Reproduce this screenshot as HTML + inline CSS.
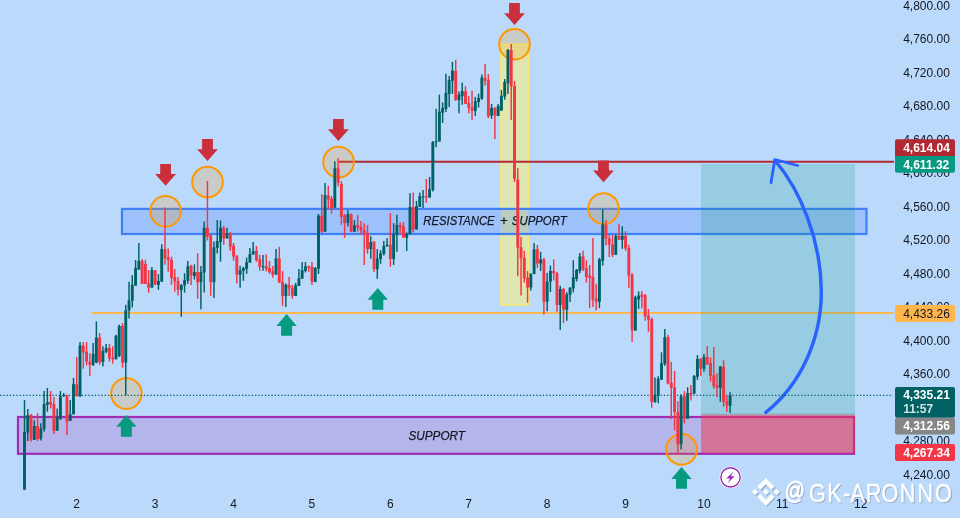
<!DOCTYPE html>
<html lang="en"><head><meta charset="utf-8"><title>Chart</title>
<style>
html,body{margin:0;padding:0;background:#BBD9FB;}
body{width:960px;height:518px;overflow:hidden;font-family:"Liberation Sans",sans-serif;}
svg{display:block;}
.ax{font-family:"Liberation Sans",sans-serif;font-size:12px;fill:#131722;}
.lbl{font-family:"Liberation Sans",sans-serif;font-size:13px;font-style:italic;fill:#131722;stroke:#131722;stroke-width:0.25px;}
.wm{font-family:"Liberation Sans",sans-serif;font-size:24px;}
</style></head><body>
<svg width="960" height="518" viewBox="0 0 960 518">
<rect width="960" height="518" fill="#BBD9FB"/>
<!-- axis labels -->
<g>
<text x="903.2" y="9.7" class="ax">4,800.00</text>
<text x="903.2" y="43.2" class="ax">4,760.00</text>
<text x="903.2" y="76.7" class="ax">4,720.00</text>
<text x="903.2" y="110.2" class="ax">4,680.00</text>
<text x="903.2" y="143.7" class="ax">4,640.00</text>
<text x="903.2" y="177.2" class="ax">4,600.00</text>
<text x="903.2" y="210.7" class="ax">4,560.00</text>
<text x="903.2" y="244.1" class="ax">4,520.00</text>
<text x="903.2" y="277.6" class="ax">4,480.00</text>
<text x="903.2" y="311.1" class="ax">4,440.00</text>
<text x="903.2" y="344.6" class="ax">4,400.00</text>
<text x="903.2" y="378.1" class="ax">4,360.00</text>
<text x="903.2" y="411.6" class="ax">4,320.00</text>
<text x="903.2" y="445.1" class="ax">4,280.00</text>
<text x="903.2" y="478.6" class="ax">4,240.00</text>
<text x="76.7" y="507.6" class="ax" text-anchor="middle">2</text>
<text x="155.1" y="507.6" class="ax" text-anchor="middle">3</text>
<text x="233.5" y="507.6" class="ax" text-anchor="middle">4</text>
<text x="311.9" y="507.6" class="ax" text-anchor="middle">5</text>
<text x="390.3" y="507.6" class="ax" text-anchor="middle">6</text>
<text x="468.7" y="507.6" class="ax" text-anchor="middle">7</text>
<text x="547.1" y="507.6" class="ax" text-anchor="middle">8</text>
<text x="625.5" y="507.6" class="ax" text-anchor="middle">9</text>
<text x="703.9" y="507.6" class="ax" text-anchor="middle">10</text>
<text x="782.3" y="507.6" class="ax" text-anchor="middle">11</text>
<text x="860.7" y="507.6" class="ax" text-anchor="middle">12</text>
</g>
<!-- orange line -->
<path d="M92 313H894" stroke="#FFB74D" stroke-width="2"/>
<!-- yellow rect -->
<rect x="500.9" y="44.2" width="27.6" height="260.8" fill="rgba(255,242,110,0.52)"/>
<path d="M500.9 207.8V44.2H528.5V207.8M500.9 235.1V305H528.5V235.1" fill="none" stroke="#FAEA6E" stroke-width="1.4"/>
<!-- blue rect -->
<rect x="122" y="208.9" width="744.5" height="25.1" fill="rgba(41,98,255,0.2)" stroke="#3F80F6" stroke-width="2.2"/>
<text y="225.3" class="lbl"><tspan x="423.3" textLength="71.3" lengthAdjust="spacingAndGlyphs">RESISTANCE</tspan><tspan x="496.5"> + </tspan><tspan x="511.8" textLength="54.9" lengthAdjust="spacingAndGlyphs">SUPPORT</tspan></text>
<!-- purple rect -->
<rect x="18" y="417" width="836" height="36.8" fill="rgba(156,39,176,0.2)" stroke="#A02DB4" stroke-width="2.2"/>
<text x="408.5" y="439.6" class="lbl" textLength="56.5" lengthAdjust="spacingAndGlyphs">SUPPORT</text>
<!-- red line -->
<path d="M338.5 161.8H894" stroke="#B22833" stroke-width="2"/>
<!-- position tool -->
<rect x="701" y="414.6" width="154" height="38.6" fill="rgba(242,54,69,0.5)"/>
<rect x="701" y="164" width="154" height="250" fill="rgba(8,153,129,0.2)"/>
<path d="M701 414.2H855" stroke="#86a3b0" stroke-width="1"/>
<!-- circles -->
<circle cx="165.6" cy="211.3" r="15.3" fill="rgba(255,152,0,0.2)" stroke="#FF9800" stroke-width="2"/>
<circle cx="207.5" cy="182" r="15.3" fill="rgba(255,152,0,0.2)" stroke="#FF9800" stroke-width="2"/>
<circle cx="338.6" cy="162.1" r="15.3" fill="rgba(255,152,0,0.2)" stroke="#FF9800" stroke-width="2"/>
<circle cx="514.5" cy="44.3" r="15.3" fill="rgba(255,152,0,0.2)" stroke="#FF9800" stroke-width="2"/>
<circle cx="603.5" cy="208.6" r="15.3" fill="rgba(255,152,0,0.2)" stroke="#FF9800" stroke-width="2"/>
<circle cx="126.4" cy="393.6" r="15.3" fill="rgba(255,152,0,0.2)" stroke="#FF9800" stroke-width="2"/>
<circle cx="681.6" cy="449.4" r="15.3" fill="rgba(255,152,0,0.2)" stroke="#FF9800" stroke-width="2"/>
<!-- arrows -->
<path d="M160.2 164.0H171.0V174.1H176.0L165.6 185.8L155.2 174.1H160.2Z" fill="#CC2F3C"/>
<path d="M202.1 139.1H212.9V149.2H217.9L207.5 160.9L197.1 149.2H202.1Z" fill="#CC2F3C"/>
<path d="M333.0 119.1H343.8V129.2H348.8L338.4 140.9L328.0 129.2H333.0Z" fill="#CC2F3C"/>
<path d="M509.1 3.1H519.9V13.2H524.9L514.5 24.9L504.1 13.2H509.1Z" fill="#CC2F3C"/>
<path d="M598.1 160.4H608.9V170.5H613.9L603.5 182.2L593.1 170.5H598.1Z" fill="#CC2F3C"/>
<path d="M126.4 414.9L136.6 426.8H131.9V436.7H120.9V426.8H116.2Z" fill="#089981"/>
<path d="M286.6 314.0L296.8 325.9H292.1V335.8H281.1V325.9H276.4Z" fill="#089981"/>
<path d="M377.8 287.9L388.0 299.8H383.3V309.7H372.3V299.8H367.6Z" fill="#089981"/>
<path d="M681.5 467.0L691.7 478.9H687.0V488.8H676.0V478.9H671.3Z" fill="#089981"/>
<!-- blue curve -->
<path d="M765.8 412.4C800 385 821.3 340 821.3 292C821.3 240 800 190 775.5 161" fill="none" stroke="#2962FF" stroke-width="3.4" stroke-linecap="round"/>
<path d="M771 182.8L774.8 159.7L797.7 165.5" fill="none" stroke="#2962FF" stroke-width="2.8" stroke-linecap="round" stroke-linejoin="round"/>
<!-- dotted price line -->
<path d="M0 395.3H893" stroke="#006064" stroke-width="1.3" stroke-dasharray="1.3 1.97"/>
<!-- candles -->
<g shape-rendering="auto">
<path d="M24.50 400.1V489.7" stroke="#006064" stroke-width="1.45"/><rect x="23.05" y="432.0" width="2.9" height="57.7" fill="#006064"/>
<path d="M27.77 409.0V441.0" stroke="#006064" stroke-width="1.45"/><rect x="26.32" y="415.2" width="2.9" height="17.3" fill="#006064"/>
<path d="M31.03 414.0V441.8" stroke="#F23645" stroke-width="1.45"/><rect x="29.58" y="414.8" width="2.9" height="24.7" fill="#F23645"/>
<path d="M34.30 420.2V440.0" stroke="#006064" stroke-width="1.45"/><rect x="32.85" y="426.0" width="2.9" height="14.0" fill="#006064"/>
<path d="M37.57 413.2V441.0" stroke="#F23645" stroke-width="1.45"/><rect x="36.12" y="426.0" width="2.9" height="13.2" fill="#F23645"/>
<path d="M40.83 423.3V440.6" stroke="#006064" stroke-width="1.45"/><rect x="39.38" y="428.4" width="2.9" height="10.3" fill="#006064"/>
<path d="M44.10 391.1V431.8" stroke="#006064" stroke-width="1.45"/><rect x="42.65" y="404.0" width="2.9" height="25.1" fill="#006064"/>
<path d="M47.37 388.0V411.7" stroke="#006064" stroke-width="1.45"/><rect x="45.92" y="402.1" width="2.9" height="2.6" fill="#006064"/>
<path d="M50.63 391.0V408.6" stroke="#F23645" stroke-width="1.45"/><rect x="49.18" y="402.0" width="2.9" height="2.7" fill="#F23645"/>
<path d="M53.90 397.0V434.0" stroke="#F23645" stroke-width="1.45"/><rect x="52.45" y="404.0" width="2.9" height="27.0" fill="#F23645"/>
<path d="M57.17 408.6V430.7" stroke="#006064" stroke-width="1.45"/><rect x="55.72" y="417.0" width="2.9" height="13.7" fill="#006064"/>
<path d="M60.43 391.0V420.0" stroke="#006064" stroke-width="1.45"/><rect x="58.98" y="396.2" width="2.9" height="22.4" fill="#006064"/>
<path d="M63.70 393.0V397.0" stroke="#006064" stroke-width="1.45"/><rect x="62.25" y="395.0" width="2.9" height="1.0" fill="#006064"/>
<path d="M66.97 394.7V434.9" stroke="#F23645" stroke-width="1.45"/><rect x="65.52" y="395.5" width="2.9" height="26.2" fill="#F23645"/>
<path d="M70.23 400.0V421.0" stroke="#006064" stroke-width="1.45"/><rect x="68.78" y="414.3" width="2.9" height="6.7" fill="#006064"/>
<path d="M73.50 377.9V414.3" stroke="#006064" stroke-width="1.45"/><rect x="72.05" y="384.2" width="2.9" height="30.1" fill="#006064"/>
<path d="M76.77 357.0V396.5" stroke="#F23645" stroke-width="1.45"/><rect x="75.32" y="384.1" width="2.9" height="11.6" fill="#F23645"/>
<path d="M80.03 342.0V396.5" stroke="#006064" stroke-width="1.45"/><rect x="78.58" y="345.5" width="2.9" height="51.0" fill="#006064"/>
<path d="M83.30 342.0V368.6" stroke="#F23645" stroke-width="1.45"/><rect x="81.85" y="345.5" width="2.9" height="6.9" fill="#F23645"/>
<path d="M86.57 342.0V365.5" stroke="#F23645" stroke-width="1.45"/><rect x="85.12" y="351.6" width="2.9" height="10.1" fill="#F23645"/>
<path d="M89.83 353.2V376.0" stroke="#F23645" stroke-width="1.45"/><rect x="88.38" y="361.7" width="2.9" height="3.1" fill="#F23645"/>
<path d="M93.10 343.1V366.0" stroke="#006064" stroke-width="1.45"/><rect x="91.65" y="354.0" width="2.9" height="10.8" fill="#006064"/>
<path d="M96.37 321.4V363.2" stroke="#006064" stroke-width="1.45"/><rect x="94.92" y="337.7" width="2.9" height="24.8" fill="#006064"/>
<path d="M99.63 333.0V364.8" stroke="#F23645" stroke-width="1.45"/><rect x="98.18" y="337.7" width="2.9" height="24.5" fill="#F23645"/>
<path d="M102.90 346.3V366.5" stroke="#006064" stroke-width="1.45"/><rect x="101.45" y="351.0" width="2.9" height="11.0" fill="#006064"/>
<path d="M106.17 344.0V353.3" stroke="#006064" stroke-width="1.45"/><rect x="104.72" y="348.0" width="2.9" height="3.7" fill="#006064"/>
<path d="M109.43 344.0V361.5" stroke="#F23645" stroke-width="1.45"/><rect x="107.98" y="348.0" width="2.9" height="10.3" fill="#F23645"/>
<path d="M112.70 346.3V363.7" stroke="#F23645" stroke-width="1.45"/><rect x="111.25" y="357.7" width="2.9" height="1.6" fill="#F23645"/>
<path d="M115.97 334.8V359.3" stroke="#006064" stroke-width="1.45"/><rect x="114.52" y="335.7" width="2.9" height="23.6" fill="#006064"/>
<path d="M119.23 324.8V357.0" stroke="#006064" stroke-width="1.45"/><rect x="117.78" y="325.9" width="2.9" height="30.1" fill="#006064"/>
<path d="M122.50 323.2V367.5" stroke="#F23645" stroke-width="1.45"/><rect x="121.05" y="325.9" width="2.9" height="36.7" fill="#F23645"/>
<path d="M125.77 304.7V395.3" stroke="#006064" stroke-width="1.45"/><rect x="124.32" y="310.2" width="2.9" height="52.4" fill="#006064"/>
<path d="M129.03 281.7V318.6" stroke="#006064" stroke-width="1.45"/><rect x="127.58" y="300.4" width="2.9" height="9.8" fill="#006064"/>
<path d="M132.30 275.2V307.5" stroke="#006064" stroke-width="1.45"/><rect x="130.85" y="284.8" width="2.9" height="15.9" fill="#006064"/>
<path d="M135.57 260.1V285.6" stroke="#006064" stroke-width="1.45"/><rect x="134.12" y="268.1" width="2.9" height="17.5" fill="#006064"/>
<path d="M138.83 243.1V270.1" stroke="#006064" stroke-width="1.45"/><rect x="137.38" y="260.9" width="2.9" height="8.5" fill="#006064"/>
<path d="M142.10 258.9V284.0" stroke="#F23645" stroke-width="1.45"/><rect x="140.65" y="260.9" width="2.9" height="23.1" fill="#F23645"/>
<path d="M145.37 259.8V284.0" stroke="#F23645" stroke-width="1.45"/><rect x="143.92" y="264.0" width="2.9" height="20.0" fill="#F23645"/>
<path d="M148.63 270.1V292.9" stroke="#F23645" stroke-width="1.45"/><rect x="147.18" y="283.3" width="2.9" height="4.3" fill="#F23645"/>
<path d="M151.90 267.0V287.6" stroke="#006064" stroke-width="1.45"/><rect x="150.45" y="270.1" width="2.9" height="17.5" fill="#006064"/>
<path d="M155.17 270.0V284.8" stroke="#F23645" stroke-width="1.45"/><rect x="153.72" y="270.1" width="2.9" height="14.7" fill="#F23645"/>
<path d="M158.43 274.0V289.8" stroke="#006064" stroke-width="1.45"/><rect x="156.98" y="281.0" width="2.9" height="3.8" fill="#006064"/>
<path d="M161.70 244.3V281.7" stroke="#006064" stroke-width="1.45"/><rect x="160.25" y="249.0" width="2.9" height="32.7" fill="#006064"/>
<path d="M164.97 207.5V264.7" stroke="#F23645" stroke-width="1.45"/><rect x="163.52" y="249.0" width="2.9" height="9.5" fill="#F23645"/>
<path d="M168.23 248.5V271.7" stroke="#F23645" stroke-width="1.45"/><rect x="166.78" y="257.3" width="2.9" height="2.8" fill="#F23645"/>
<path d="M171.50 256.7V284.8" stroke="#F23645" stroke-width="1.45"/><rect x="170.05" y="259.8" width="2.9" height="18.1" fill="#F23645"/>
<path d="M174.77 269.1V291.8" stroke="#F23645" stroke-width="1.45"/><rect x="173.32" y="277.1" width="2.9" height="4.3" fill="#F23645"/>
<path d="M178.03 277.1V295.6" stroke="#F23645" stroke-width="1.45"/><rect x="176.58" y="281.0" width="2.9" height="8.5" fill="#F23645"/>
<path d="M181.30 284.0V316.8" stroke="#006064" stroke-width="1.45"/><rect x="179.85" y="285.2" width="2.9" height="4.8" fill="#006064"/>
<path d="M184.57 273.3V292.6" stroke="#006064" stroke-width="1.45"/><rect x="183.12" y="280.2" width="2.9" height="5.1" fill="#006064"/>
<path d="M187.83 260.9V283.8" stroke="#006064" stroke-width="1.45"/><rect x="186.38" y="266.3" width="2.9" height="14.4" fill="#006064"/>
<path d="M191.10 264.8V284.9" stroke="#F23645" stroke-width="1.45"/><rect x="189.65" y="265.9" width="2.9" height="9.7" fill="#F23645"/>
<path d="M194.37 264.3V279.5" stroke="#006064" stroke-width="1.45"/><rect x="192.92" y="272.0" width="2.9" height="3.9" fill="#006064"/>
<path d="M197.63 253.2V298.8" stroke="#F23645" stroke-width="1.45"/><rect x="196.18" y="272.0" width="2.9" height="10.2" fill="#F23645"/>
<path d="M200.90 265.9V309.2" stroke="#006064" stroke-width="1.45"/><rect x="199.45" y="272.0" width="2.9" height="10.2" fill="#006064"/>
<path d="M204.17 221.6V292.6" stroke="#006064" stroke-width="1.45"/><rect x="202.72" y="227.7" width="2.9" height="44.8" fill="#006064"/>
<path d="M207.43 181.0V240.5" stroke="#F23645" stroke-width="1.45"/><rect x="205.98" y="227.7" width="2.9" height="9.1" fill="#F23645"/>
<path d="M210.70 234.6V295.7" stroke="#F23645" stroke-width="1.45"/><rect x="209.25" y="235.4" width="2.9" height="46.8" fill="#F23645"/>
<path d="M213.97 241.6V298.0" stroke="#006064" stroke-width="1.45"/><rect x="212.52" y="247.3" width="2.9" height="34.9" fill="#006064"/>
<path d="M217.23 220.1V253.5" stroke="#006064" stroke-width="1.45"/><rect x="215.78" y="241.1" width="2.9" height="6.7" fill="#006064"/>
<path d="M220.50 220.5V261.7" stroke="#006064" stroke-width="1.45"/><rect x="219.05" y="227.7" width="2.9" height="14.4" fill="#006064"/>
<path d="M223.77 226.0V244.7" stroke="#F23645" stroke-width="1.45"/><rect x="222.32" y="228.0" width="2.9" height="10.5" fill="#F23645"/>
<path d="M227.03 227.7V238.5" stroke="#006064" stroke-width="1.45"/><rect x="225.58" y="233.3" width="2.9" height="5.2" fill="#006064"/>
<path d="M230.30 232.0V250.9" stroke="#F23645" stroke-width="1.45"/><rect x="228.85" y="233.0" width="2.9" height="13.7" fill="#F23645"/>
<path d="M233.57 243.0V260.8" stroke="#F23645" stroke-width="1.45"/><rect x="232.12" y="245.6" width="2.9" height="11.0" fill="#F23645"/>
<path d="M236.83 255.0V283.6" stroke="#F23645" stroke-width="1.45"/><rect x="235.38" y="256.2" width="2.9" height="18.5" fill="#F23645"/>
<path d="M240.10 266.1V287.8" stroke="#006064" stroke-width="1.45"/><rect x="238.65" y="270.3" width="2.9" height="4.3" fill="#006064"/>
<path d="M243.37 266.9V280.8" stroke="#006064" stroke-width="1.45"/><rect x="241.92" y="268.0" width="2.9" height="2.8" fill="#006064"/>
<path d="M246.63 257.6V273.9" stroke="#006064" stroke-width="1.45"/><rect x="245.18" y="262.3" width="2.9" height="6.5" fill="#006064"/>
<path d="M249.90 248.0V262.6" stroke="#006064" stroke-width="1.45"/><rect x="248.45" y="254.2" width="2.9" height="8.4" fill="#006064"/>
<path d="M253.17 241.9V254.5" stroke="#006064" stroke-width="1.45"/><rect x="251.72" y="251.1" width="2.9" height="3.4" fill="#006064"/>
<path d="M256.43 246.0V262.0" stroke="#F23645" stroke-width="1.45"/><rect x="254.98" y="250.7" width="2.9" height="9.3" fill="#F23645"/>
<path d="M259.70 254.9V270.8" stroke="#F23645" stroke-width="1.45"/><rect x="258.25" y="259.2" width="2.9" height="7.7" fill="#F23645"/>
<path d="M262.97 254.9V270.8" stroke="#006064" stroke-width="1.45"/><rect x="261.52" y="266.1" width="2.9" height="1.0" fill="#006064"/>
<path d="M266.23 254.2V271.5" stroke="#F23645" stroke-width="1.45"/><rect x="264.78" y="266.1" width="2.9" height="2.7" fill="#F23645"/>
<path d="M269.50 261.0V273.9" stroke="#F23645" stroke-width="1.45"/><rect x="268.05" y="268.0" width="2.9" height="3.9" fill="#F23645"/>
<path d="M272.77 266.1V277.7" stroke="#F23645" stroke-width="1.45"/><rect x="271.32" y="271.2" width="2.9" height="3.7" fill="#F23645"/>
<path d="M276.03 249.1V274.6" stroke="#006064" stroke-width="1.45"/><rect x="274.58" y="258.4" width="2.9" height="16.2" fill="#006064"/>
<path d="M279.30 246.8V282.7" stroke="#F23645" stroke-width="1.45"/><rect x="277.85" y="258.4" width="2.9" height="24.3" fill="#F23645"/>
<path d="M282.57 271.2V305.9" stroke="#F23645" stroke-width="1.45"/><rect x="281.12" y="282.1" width="2.9" height="14.2" fill="#F23645"/>
<path d="M285.83 283.6V307.0" stroke="#006064" stroke-width="1.45"/><rect x="284.38" y="284.6" width="2.9" height="11.4" fill="#006064"/>
<path d="M289.10 277.0V296.0" stroke="#F23645" stroke-width="1.45"/><rect x="287.65" y="285.0" width="2.9" height="3.6" fill="#F23645"/>
<path d="M292.37 284.9V298.8" stroke="#F23645" stroke-width="1.45"/><rect x="290.92" y="288.0" width="2.9" height="7.7" fill="#F23645"/>
<path d="M295.63 282.9V296.0" stroke="#006064" stroke-width="1.45"/><rect x="294.18" y="285.2" width="2.9" height="10.8" fill="#006064"/>
<path d="M298.90 269.0V286.0" stroke="#006064" stroke-width="1.45"/><rect x="297.45" y="278.2" width="2.9" height="7.8" fill="#006064"/>
<path d="M302.17 262.0V278.7" stroke="#006064" stroke-width="1.45"/><rect x="300.72" y="270.2" width="2.9" height="8.5" fill="#006064"/>
<path d="M305.43 262.0V272.5" stroke="#006064" stroke-width="1.45"/><rect x="303.98" y="266.3" width="2.9" height="4.7" fill="#006064"/>
<path d="M308.70 265.5V271.7" stroke="#F23645" stroke-width="1.45"/><rect x="307.25" y="266.3" width="2.9" height="1.6" fill="#F23645"/>
<path d="M311.97 262.0V284.9" stroke="#F23645" stroke-width="1.45"/><rect x="310.52" y="266.8" width="2.9" height="15.0" fill="#F23645"/>
<path d="M315.23 267.1V282.1" stroke="#006064" stroke-width="1.45"/><rect x="313.78" y="267.9" width="2.9" height="14.2" fill="#006064"/>
<path d="M318.50 214.0V274.0" stroke="#006064" stroke-width="1.45"/><rect x="317.05" y="215.7" width="2.9" height="52.9" fill="#006064"/>
<path d="M321.77 194.3V233.5" stroke="#F23645" stroke-width="1.45"/><rect x="320.32" y="215.7" width="2.9" height="16.0" fill="#F23645"/>
<path d="M325.03 183.0V231.7" stroke="#006064" stroke-width="1.45"/><rect x="323.58" y="195.2" width="2.9" height="36.5" fill="#006064"/>
<path d="M328.30 185.7V209.1" stroke="#F23645" stroke-width="1.45"/><rect x="326.85" y="195.2" width="2.9" height="4.4" fill="#F23645"/>
<path d="M331.57 196.1V213.5" stroke="#F23645" stroke-width="1.45"/><rect x="330.12" y="198.7" width="2.9" height="9.6" fill="#F23645"/>
<path d="M334.83 161.3V207.7" stroke="#006064" stroke-width="1.45"/><rect x="333.38" y="168.3" width="2.9" height="39.4" fill="#006064"/>
<path d="M338.10 158.3V186.5" stroke="#F23645" stroke-width="1.45"/><rect x="336.65" y="168.3" width="2.9" height="14.7" fill="#F23645"/>
<path d="M341.37 181.3V224.7" stroke="#F23645" stroke-width="1.45"/><rect x="339.92" y="183.9" width="2.9" height="33.0" fill="#F23645"/>
<path d="M344.63 214.0V237.9" stroke="#F23645" stroke-width="1.45"/><rect x="343.18" y="215.6" width="2.9" height="7.5" fill="#F23645"/>
<path d="M347.90 210.0V226.6" stroke="#006064" stroke-width="1.45"/><rect x="346.45" y="214.1" width="2.9" height="8.7" fill="#006064"/>
<path d="M351.17 213.5V231.7" stroke="#F23645" stroke-width="1.45"/><rect x="349.72" y="214.1" width="2.9" height="17.6" fill="#F23645"/>
<path d="M354.43 220.2V231.7" stroke="#006064" stroke-width="1.45"/><rect x="352.98" y="225.2" width="2.9" height="6.5" fill="#006064"/>
<path d="M357.70 215.1V231.7" stroke="#F23645" stroke-width="1.45"/><rect x="356.25" y="225.2" width="2.9" height="2.4" fill="#F23645"/>
<path d="M360.97 221.0V234.5" stroke="#F23645" stroke-width="1.45"/><rect x="359.52" y="226.8" width="2.9" height="3.5" fill="#F23645"/>
<path d="M364.23 223.2V264.9" stroke="#F23645" stroke-width="1.45"/><rect x="362.78" y="230.1" width="2.9" height="3.6" fill="#F23645"/>
<path d="M367.50 225.0V253.8" stroke="#F23645" stroke-width="1.45"/><rect x="366.05" y="232.9" width="2.9" height="16.2" fill="#F23645"/>
<path d="M370.77 236.3V258.7" stroke="#006064" stroke-width="1.45"/><rect x="369.32" y="242.0" width="2.9" height="7.1" fill="#006064"/>
<path d="M374.03 241.0V271.9" stroke="#F23645" stroke-width="1.45"/><rect x="372.58" y="241.7" width="2.9" height="27.5" fill="#F23645"/>
<path d="M377.30 249.1V278.8" stroke="#006064" stroke-width="1.45"/><rect x="375.85" y="258.4" width="2.9" height="10.8" fill="#006064"/>
<path d="M380.57 250.2V263.7" stroke="#006064" stroke-width="1.45"/><rect x="379.12" y="253.3" width="2.9" height="5.7" fill="#006064"/>
<path d="M383.83 241.0V255.6" stroke="#006064" stroke-width="1.45"/><rect x="382.38" y="246.0" width="2.9" height="7.8" fill="#006064"/>
<path d="M387.10 237.9V246.4" stroke="#006064" stroke-width="1.45"/><rect x="385.65" y="244.8" width="2.9" height="1.6" fill="#006064"/>
<path d="M390.37 213.1V266.8" stroke="#F23645" stroke-width="1.45"/><rect x="388.92" y="244.8" width="2.9" height="14.2" fill="#F23645"/>
<path d="M393.63 223.2V264.9" stroke="#006064" stroke-width="1.45"/><rect x="392.18" y="234.3" width="2.9" height="24.7" fill="#006064"/>
<path d="M396.90 214.7V251.8" stroke="#006064" stroke-width="1.45"/><rect x="395.45" y="225.0" width="2.9" height="9.8" fill="#006064"/>
<path d="M400.17 222.2V233.4" stroke="#F23645" stroke-width="1.45"/><rect x="398.72" y="224.9" width="2.9" height="2.3" fill="#F23645"/>
<path d="M403.43 222.2V237.7" stroke="#F23645" stroke-width="1.45"/><rect x="401.98" y="226.4" width="2.9" height="11.3" fill="#F23645"/>
<path d="M406.70 232.5V251.0" stroke="#006064" stroke-width="1.45"/><rect x="405.25" y="233.7" width="2.9" height="4.0" fill="#006064"/>
<path d="M409.97 193.2V234.1" stroke="#006064" stroke-width="1.45"/><rect x="408.52" y="207.1" width="2.9" height="27.0" fill="#006064"/>
<path d="M413.23 192.4V232.6" stroke="#F23645" stroke-width="1.45"/><rect x="411.78" y="207.1" width="2.9" height="22.4" fill="#F23645"/>
<path d="M416.50 200.9V229.5" stroke="#006064" stroke-width="1.45"/><rect x="415.05" y="206.3" width="2.9" height="23.2" fill="#006064"/>
<path d="M419.77 192.4V206.8" stroke="#006064" stroke-width="1.45"/><rect x="418.32" y="196.3" width="2.9" height="10.5" fill="#006064"/>
<path d="M423.03 190.1V207.9" stroke="#006064" stroke-width="1.45"/><rect x="421.58" y="196.3" width="2.9" height="1.0" fill="#006064"/>
<path d="M426.30 179.0V202.8" stroke="#F23645" stroke-width="1.45"/><rect x="424.85" y="196.3" width="2.9" height="1.2" fill="#F23645"/>
<path d="M429.57 177.0V197.5" stroke="#006064" stroke-width="1.45"/><rect x="428.12" y="189.3" width="2.9" height="8.2" fill="#006064"/>
<path d="M432.83 141.0V191.6" stroke="#006064" stroke-width="1.45"/><rect x="431.38" y="142.1" width="2.9" height="47.7" fill="#006064"/>
<path d="M436.10 108.7V147.3" stroke="#006064" stroke-width="1.45"/><rect x="434.65" y="141.3" width="2.9" height="1.0" fill="#006064"/>
<path d="M439.37 94.6V141.5" stroke="#006064" stroke-width="1.45"/><rect x="437.92" y="111.6" width="2.9" height="29.9" fill="#006064"/>
<path d="M442.63 102.4V123.0" stroke="#006064" stroke-width="1.45"/><rect x="441.18" y="108.0" width="2.9" height="4.7" fill="#006064"/>
<path d="M445.90 73.8V112.0" stroke="#006064" stroke-width="1.45"/><rect x="444.45" y="93.1" width="2.9" height="15.9" fill="#006064"/>
<path d="M449.17 76.1V107.0" stroke="#006064" stroke-width="1.45"/><rect x="447.72" y="80.0" width="2.9" height="13.9" fill="#006064"/>
<path d="M452.43 61.9V93.9" stroke="#006064" stroke-width="1.45"/><rect x="450.98" y="70.7" width="2.9" height="10.0" fill="#006064"/>
<path d="M455.70 59.9V101.0" stroke="#F23645" stroke-width="1.45"/><rect x="454.25" y="70.7" width="2.9" height="29.3" fill="#F23645"/>
<path d="M458.97 91.5V113.2" stroke="#006064" stroke-width="1.45"/><rect x="457.52" y="94.6" width="2.9" height="5.4" fill="#006064"/>
<path d="M462.23 82.6V104.7" stroke="#006064" stroke-width="1.45"/><rect x="460.78" y="91.2" width="2.9" height="5.0" fill="#006064"/>
<path d="M465.50 86.1V103.9" stroke="#F23645" stroke-width="1.45"/><rect x="464.05" y="91.2" width="2.9" height="12.7" fill="#F23645"/>
<path d="M468.77 95.9V113.2" stroke="#F23645" stroke-width="1.45"/><rect x="467.32" y="103.1" width="2.9" height="4.7" fill="#F23645"/>
<path d="M472.03 90.8V119.7" stroke="#F23645" stroke-width="1.45"/><rect x="470.58" y="107.0" width="2.9" height="3.9" fill="#F23645"/>
<path d="M475.30 97.0V116.0" stroke="#006064" stroke-width="1.45"/><rect x="473.85" y="101.1" width="2.9" height="9.8" fill="#006064"/>
<path d="M478.57 93.6V107.5" stroke="#006064" stroke-width="1.45"/><rect x="477.12" y="98.0" width="2.9" height="4.0" fill="#006064"/>
<path d="M481.83 74.5V100.0" stroke="#006064" stroke-width="1.45"/><rect x="480.38" y="77.6" width="2.9" height="20.9" fill="#006064"/>
<path d="M485.10 64.0V85.6" stroke="#F23645" stroke-width="1.45"/><rect x="483.65" y="77.6" width="2.9" height="3.4" fill="#F23645"/>
<path d="M488.37 74.0V118.0" stroke="#F23645" stroke-width="1.45"/><rect x="486.92" y="80.3" width="2.9" height="36.2" fill="#F23645"/>
<path d="M491.63 104.0V118.8" stroke="#006064" stroke-width="1.45"/><rect x="490.18" y="108.0" width="2.9" height="7.6" fill="#006064"/>
<path d="M494.90 107.0V139.0" stroke="#F23645" stroke-width="1.45"/><rect x="493.45" y="108.0" width="2.9" height="7.6" fill="#F23645"/>
<path d="M498.17 104.0V116.0" stroke="#006064" stroke-width="1.45"/><rect x="496.72" y="106.0" width="2.9" height="10.0" fill="#006064"/>
<path d="M501.43 90.1V110.6" stroke="#006064" stroke-width="1.45"/><rect x="499.98" y="95.8" width="2.9" height="14.8" fill="#006064"/>
<path d="M504.70 79.0V99.7" stroke="#006064" stroke-width="1.45"/><rect x="503.25" y="81.9" width="2.9" height="14.7" fill="#006064"/>
<path d="M507.97 49.0V94.0" stroke="#006064" stroke-width="1.45"/><rect x="506.52" y="50.0" width="2.9" height="33.2" fill="#006064"/>
<path d="M511.23 44.0V120.0" stroke="#F23645" stroke-width="1.45"/><rect x="509.78" y="50.0" width="2.9" height="36.3" fill="#F23645"/>
<path d="M514.50 81.0V181.8" stroke="#F23645" stroke-width="1.45"/><rect x="513.05" y="86.0" width="2.9" height="92.9" fill="#F23645"/>
<path d="M517.77 168.3V276.3" stroke="#F23645" stroke-width="1.45"/><rect x="516.32" y="179.5" width="2.9" height="68.1" fill="#F23645"/>
<path d="M521.03 237.0V295.4" stroke="#F23645" stroke-width="1.45"/><rect x="519.58" y="247.2" width="2.9" height="11.0" fill="#F23645"/>
<path d="M524.30 250.8V282.6" stroke="#F23645" stroke-width="1.45"/><rect x="522.85" y="257.8" width="2.9" height="20.6" fill="#F23645"/>
<path d="M527.57 271.0V302.8" stroke="#F23645" stroke-width="1.45"/><rect x="526.12" y="277.7" width="2.9" height="9.8" fill="#F23645"/>
<path d="M530.83 273.1V290.5" stroke="#006064" stroke-width="1.45"/><rect x="529.38" y="274.1" width="2.9" height="13.4" fill="#006064"/>
<path d="M534.10 242.9V274.1" stroke="#006064" stroke-width="1.45"/><rect x="532.65" y="249.3" width="2.9" height="24.8" fill="#006064"/>
<path d="M537.37 245.0V268.0" stroke="#F23645" stroke-width="1.45"/><rect x="535.92" y="249.3" width="2.9" height="14.2" fill="#F23645"/>
<path d="M540.63 251.8V271.0" stroke="#006064" stroke-width="1.45"/><rect x="539.18" y="259.3" width="2.9" height="4.2" fill="#006064"/>
<path d="M543.90 257.8V314.5" stroke="#F23645" stroke-width="1.45"/><rect x="542.45" y="259.3" width="2.9" height="42.4" fill="#F23645"/>
<path d="M547.17 273.1V311.3" stroke="#006064" stroke-width="1.45"/><rect x="545.72" y="281.6" width="2.9" height="20.1" fill="#006064"/>
<path d="M550.43 265.6V292.2" stroke="#006064" stroke-width="1.45"/><rect x="548.98" y="271.0" width="2.9" height="10.6" fill="#006064"/>
<path d="M553.70 259.3V280.5" stroke="#F23645" stroke-width="1.45"/><rect x="552.25" y="271.0" width="2.9" height="2.3" fill="#F23645"/>
<path d="M556.97 272.0V311.8" stroke="#F23645" stroke-width="1.45"/><rect x="555.52" y="273.1" width="2.9" height="31.8" fill="#F23645"/>
<path d="M560.23 285.8V330.0" stroke="#006064" stroke-width="1.45"/><rect x="558.78" y="289.0" width="2.9" height="15.9" fill="#006064"/>
<path d="M563.50 288.0V323.0" stroke="#F23645" stroke-width="1.45"/><rect x="562.05" y="289.0" width="2.9" height="20.7" fill="#F23645"/>
<path d="M566.77 292.2V320.8" stroke="#006064" stroke-width="1.45"/><rect x="565.32" y="294.3" width="2.9" height="15.4" fill="#006064"/>
<path d="M570.03 286.9V302.0" stroke="#006064" stroke-width="1.45"/><rect x="568.58" y="287.9" width="2.9" height="6.8" fill="#006064"/>
<path d="M573.30 260.3V292.5" stroke="#006064" stroke-width="1.45"/><rect x="571.85" y="277.3" width="2.9" height="11.1" fill="#006064"/>
<path d="M576.57 269.0V281.5" stroke="#006064" stroke-width="1.45"/><rect x="575.12" y="269.9" width="2.9" height="9.1" fill="#006064"/>
<path d="M579.83 252.9V273.5" stroke="#006064" stroke-width="1.45"/><rect x="578.38" y="256.5" width="2.9" height="14.5" fill="#006064"/>
<path d="M583.10 250.8V271.0" stroke="#F23645" stroke-width="1.45"/><rect x="581.65" y="256.5" width="2.9" height="12.8" fill="#F23645"/>
<path d="M586.37 260.3V282.6" stroke="#F23645" stroke-width="1.45"/><rect x="584.92" y="268.4" width="2.9" height="8.5" fill="#F23645"/>
<path d="M589.63 265.0V308.1" stroke="#F23645" stroke-width="1.45"/><rect x="588.18" y="275.6" width="2.9" height="2.2" fill="#F23645"/>
<path d="M592.90 238.0V307.0" stroke="#F23645" stroke-width="1.45"/><rect x="591.45" y="276.9" width="2.9" height="22.7" fill="#F23645"/>
<path d="M596.17 283.7V310.2" stroke="#F23645" stroke-width="1.45"/><rect x="594.72" y="298.6" width="2.9" height="3.1" fill="#F23645"/>
<path d="M599.43 257.8V308.1" stroke="#006064" stroke-width="1.45"/><rect x="597.98" y="259.3" width="2.9" height="42.4" fill="#006064"/>
<path d="M602.70 209.2V265.6" stroke="#006064" stroke-width="1.45"/><rect x="601.25" y="224.5" width="2.9" height="36.5" fill="#006064"/>
<path d="M605.97 220.0V245.5" stroke="#F23645" stroke-width="1.45"/><rect x="604.52" y="224.5" width="2.9" height="14.3" fill="#F23645"/>
<path d="M609.23 235.1V257.1" stroke="#F23645" stroke-width="1.45"/><rect x="607.78" y="238.3" width="2.9" height="6.5" fill="#F23645"/>
<path d="M612.50 235.1V257.1" stroke="#F23645" stroke-width="1.45"/><rect x="611.05" y="244.4" width="2.9" height="10.4" fill="#F23645"/>
<path d="M615.77 234.2V254.8" stroke="#006064" stroke-width="1.45"/><rect x="614.32" y="235.8" width="2.9" height="19.0" fill="#006064"/>
<path d="M619.03 223.9V239.8" stroke="#F23645" stroke-width="1.45"/><rect x="617.58" y="235.8" width="2.9" height="4.0" fill="#F23645"/>
<path d="M622.30 226.2V248.8" stroke="#006064" stroke-width="1.45"/><rect x="620.85" y="235.8" width="2.9" height="4.0" fill="#006064"/>
<path d="M625.57 231.1V250.8" stroke="#F23645" stroke-width="1.45"/><rect x="624.12" y="235.8" width="2.9" height="12.7" fill="#F23645"/>
<path d="M628.83 244.8V287.8" stroke="#F23645" stroke-width="1.45"/><rect x="627.38" y="248.0" width="2.9" height="27.5" fill="#F23645"/>
<path d="M632.10 272.9V341.9" stroke="#F23645" stroke-width="1.45"/><rect x="630.65" y="275.0" width="2.9" height="55.2" fill="#F23645"/>
<path d="M635.37 295.6V330.6" stroke="#006064" stroke-width="1.45"/><rect x="633.92" y="297.3" width="2.9" height="33.3" fill="#006064"/>
<path d="M638.63 291.4V309.0" stroke="#006064" stroke-width="1.45"/><rect x="637.18" y="295.6" width="2.9" height="3.8" fill="#006064"/>
<path d="M641.90 291.0V308.4" stroke="#F23645" stroke-width="1.45"/><rect x="640.45" y="294.8" width="2.9" height="2.1" fill="#F23645"/>
<path d="M645.17 294.0V320.7" stroke="#F23645" stroke-width="1.45"/><rect x="643.72" y="295.2" width="2.9" height="21.2" fill="#F23645"/>
<path d="M648.43 309.0V331.7" stroke="#F23645" stroke-width="1.45"/><rect x="646.98" y="315.4" width="2.9" height="4.3" fill="#F23645"/>
<path d="M651.70 317.5V407.7" stroke="#F23645" stroke-width="1.45"/><rect x="650.25" y="319.0" width="2.9" height="82.9" fill="#F23645"/>
<path d="M654.97 377.4V403.0" stroke="#006064" stroke-width="1.45"/><rect x="653.52" y="394.8" width="2.9" height="7.1" fill="#006064"/>
<path d="M658.23 376.2V403.2" stroke="#006064" stroke-width="1.45"/><rect x="656.78" y="378.7" width="2.9" height="17.0" fill="#006064"/>
<path d="M661.50 352.3V379.7" stroke="#006064" stroke-width="1.45"/><rect x="660.05" y="363.3" width="2.9" height="16.4" fill="#006064"/>
<path d="M664.77 329.1V365.8" stroke="#006064" stroke-width="1.45"/><rect x="663.32" y="337.2" width="2.9" height="26.7" fill="#006064"/>
<path d="M668.03 334.7V384.5" stroke="#F23645" stroke-width="1.45"/><rect x="666.58" y="337.2" width="2.9" height="46.3" fill="#F23645"/>
<path d="M671.30 361.9V419.1" stroke="#F23645" stroke-width="1.45"/><rect x="669.85" y="382.6" width="2.9" height="5.2" fill="#F23645"/>
<path d="M674.57 371.0V430.4" stroke="#F23645" stroke-width="1.45"/><rect x="673.12" y="387.3" width="2.9" height="24.9" fill="#F23645"/>
<path d="M677.83 401.3V453.9" stroke="#F23645" stroke-width="1.45"/><rect x="676.38" y="412.2" width="2.9" height="32.1" fill="#F23645"/>
<path d="M681.10 394.3V449.6" stroke="#006064" stroke-width="1.45"/><rect x="679.65" y="396.4" width="2.9" height="47.9" fill="#006064"/>
<path d="M684.37 391.3V423.5" stroke="#F23645" stroke-width="1.45"/><rect x="682.92" y="396.3" width="2.9" height="22.3" fill="#F23645"/>
<path d="M687.63 387.2V418.6" stroke="#006064" stroke-width="1.45"/><rect x="686.18" y="393.2" width="2.9" height="25.4" fill="#006064"/>
<path d="M690.90 385.0V400.5" stroke="#F23645" stroke-width="1.45"/><rect x="689.45" y="392.8" width="2.9" height="2.2" fill="#F23645"/>
<path d="M694.17 375.0V393.8" stroke="#006064" stroke-width="1.45"/><rect x="692.72" y="376.0" width="2.9" height="17.8" fill="#006064"/>
<path d="M697.43 355.0V379.9" stroke="#006064" stroke-width="1.45"/><rect x="695.98" y="358.9" width="2.9" height="17.9" fill="#006064"/>
<path d="M700.70 357.8V375.9" stroke="#F23645" stroke-width="1.45"/><rect x="699.25" y="358.9" width="2.9" height="9.7" fill="#F23645"/>
<path d="M703.97 353.9V371.7" stroke="#006064" stroke-width="1.45"/><rect x="702.52" y="357.0" width="2.9" height="11.6" fill="#006064"/>
<path d="M707.23 345.9V364.4" stroke="#F23645" stroke-width="1.45"/><rect x="705.78" y="357.0" width="2.9" height="7.4" fill="#F23645"/>
<path d="M710.50 357.3V381.7" stroke="#F23645" stroke-width="1.45"/><rect x="709.05" y="362.9" width="2.9" height="13.0" fill="#F23645"/>
<path d="M713.77 347.0V388.7" stroke="#F23645" stroke-width="1.45"/><rect x="712.32" y="375.2" width="2.9" height="10.9" fill="#F23645"/>
<path d="M717.03 373.2V397.2" stroke="#F23645" stroke-width="1.45"/><rect x="715.58" y="385.1" width="2.9" height="2.5" fill="#F23645"/>
<path d="M720.30 366.0V401.8" stroke="#006064" stroke-width="1.45"/><rect x="718.85" y="366.6" width="2.9" height="21.3" fill="#006064"/>
<path d="M723.57 360.1V406.8" stroke="#F23645" stroke-width="1.45"/><rect x="722.12" y="366.6" width="2.9" height="35.2" fill="#F23645"/>
<path d="M726.83 394.9V411.9" stroke="#F23645" stroke-width="1.45"/><rect x="725.38" y="401.0" width="2.9" height="4.7" fill="#F23645"/>
<path d="M730.10 392.2V412.9" stroke="#006064" stroke-width="1.45"/><rect x="728.65" y="395.3" width="2.9" height="10.4" fill="#006064"/>
</g>
<!-- price boxes -->
<path d="M897 139.2H953A2 2 0 0 1 955 141.2V156H895V141.2A2 2 0 0 1 897 139.2Z" fill="#B22833"/><text x="903.2" y="151.9" class="ax" style="fill:#fff;font-weight:600">4,614.04</text>
<path d="M895 156H955V170.8A2 2 0 0 1 953 172.8H897A2 2 0 0 1 895 170.8Z" fill="#089981"/><text x="903.2" y="168.7" class="ax" style="fill:#fff;font-weight:600">4,611.32</text>
<rect x="895" y="305" width="60" height="17" rx="2" fill="#FFB74D"/><text x="903.2" y="317.8" class="ax" style="fill:#131722;font-weight:400">4,433.26</text>
<rect x="895" y="386.9" width="60" height="30.9" rx="2" fill="#006064"/>
<text x="903.2" y="398.9" class="ax" style="fill:#fff;font-weight:600">4,335.21</text>
<text x="903.2" y="412.9" class="ax" style="fill:#cfe6e4;font-weight:600">11:57</text>
<rect x="895" y="417.8" width="60" height="16.6" rx="2" fill="#868686"/><text x="903.2" y="430.4" class="ax" style="fill:#fff;font-weight:600">4,312.56</text>
<rect x="895" y="444" width="60" height="17" rx="2" fill="#F23645"/><text x="903.2" y="456.8" class="ax" style="fill:#fff;font-weight:600">4,267.34</text>
<!-- lightning icon -->
<g>
<circle cx="730.5" cy="477.4" r="10.9" fill="#fff"/>
<circle cx="730.5" cy="477.4" r="9.6" fill="#fff" stroke="#9C27B0" stroke-width="1.4"/>
<path d="M733.3 471.6L726.4 478.4H730.2L727.6 483.2L734.6 476.3H730.8Z" fill="#9C27B0"/>
</g>
<!-- watermark -->
<g opacity="0.97">
<g transform="translate(767,493)" fill="#8d9bb0" opacity="0.7">
<path d="M0 -14L8.7 -5.3L5.5 -2.1L0 -7.6L-5.5 -2.1L-8.7 -5.3Z"/>
<path d="M0 14L8.7 5.3L5.5 2.1L0 7.6L-5.5 2.1L-8.7 5.3Z"/>
<path d="M0 -3.3L3.3 0L0 3.3L-3.3 0Z"/>
<path d="M-10.8 -3.2L-7.6 0L-10.8 3.2L-14 0Z"/>
<path d="M10.8 -3.2L14 0L10.8 3.2L7.6 0Z"/>
</g>
<g transform="translate(765.9,491.9)" fill="#fdfeff">
<path d="M0 -14L8.7 -5.3L5.5 -2.1L0 -7.6L-5.5 -2.1L-8.7 -5.3Z"/>
<path d="M0 14L8.7 5.3L5.5 2.1L0 7.6L-5.5 2.1L-8.7 5.3Z"/>
<path d="M0 -3.3L3.3 0L0 3.3L-3.3 0Z"/>
<path d="M-10.8 -3.2L-7.6 0L-10.8 3.2L-14 0Z"/>
<path d="M10.8 -3.2L14 0L10.8 3.2L7.6 0Z"/>
</g>
<text transform="scale(0.83,1)" text-anchor="middle" x="959.0" y="500.4" class="wm" style="font-size:24px;fill:#8d9bb0;stroke:#8d9bb0;stroke-width:0.9px;opacity:0.7">@</text>
<text transform="scale(0.83,1)" text-anchor="middle" x="986.0 1006.7 1021.1 1034.7 1053.6 1073.5 1094.7 1116.1 1138.0" y="502.6" class="wm" style="font-size:26px;fill:#8d9bb0;stroke:#8d9bb0;stroke-width:0.4px;opacity:0.7">GK-ARONNO</text>
<text transform="scale(0.83,1)" text-anchor="middle" x="957.8" y="499.4" class="wm" style="font-size:24px;fill:#fff;stroke:#fff;stroke-width:0.9px">@</text>
<text transform="scale(0.83,1)" text-anchor="middle" x="984.8 1005.5 1019.9 1033.5 1052.4 1072.3 1093.5 1114.9 1136.7" y="501.6" class="wm" style="font-size:26px;fill:#fff;stroke:#fff;stroke-width:0.4px">GK-ARONNO</text>
</g>
</svg>
</body></html>
